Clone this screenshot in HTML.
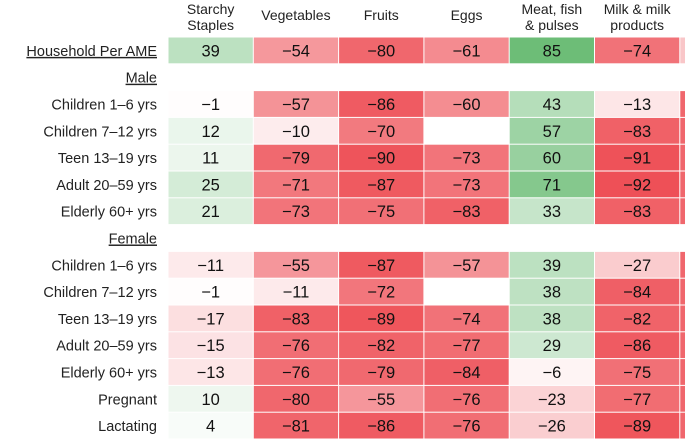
<!DOCTYPE html>
<html><head><meta charset="utf-8">
<style>
html,body{margin:0;padding:0;background:#fff;}
svg{display:block;font-family:"Liberation Sans",Arial,sans-serif;}
</style></head>
<body>
<svg id="chart" width="685" height="444" viewBox="0 0 685 444" xmlns="http://www.w3.org/2000/svg"></svg>
<script>
const columns = ["Starchy|Staples","Vegetables","Fruits","Eggs","Meat, fish|& pulses","Milk & milk|products",""];
const rowLabels = ["Household Per AME","Male","Children 1–6 yrs","Children 7–12 yrs","Teen 13–19 yrs","Adult 20–59 yrs","Elderly 60+ yrs","Female","Children 1–6 yrs","Children 7–12 yrs","Teen 13–19 yrs","Adult 20–59 yrs","Elderly 60+ yrs","Pregnant","Lactating"];
const headerRows = [false,true,false,false,false,false,false,true,false,false,false,false,false,false,false];
const starchy = [39,null,-1,12,11,25,21,null,-11,-1,-17,-15,-13,10,4];
const vegetables = [-54,null,-57,-10,-79,-71,-73,null,-55,-11,-83,-76,-76,-80,-81];
const fruits = [-80,null,-86,-70,-90,-87,-75,null,-87,-72,-89,-82,-79,-55,-86];
const eggs = [-61,null,-60,null,-73,-73,-83,null,-57,null,-74,-77,-84,-76,-76];
const meat = [85,null,43,57,60,71,33,null,39,38,38,29,-6,-23,-26];
const milk = [-74,null,-13,-83,-91,-92,-83,null,-27,-84,-82,-86,-75,-77,-89];
const extra = [-30,null,-80,-80,-80,-80,-80,null,-80,-80,-80,-80,-80,-80,-80];
const series = [starchy,vegetables,fruits,eggs,meat,milk,extra];

const svg = document.getElementById('chart');
const NS = 'http://www.w3.org/2000/svg';
const x0 = 168, colW = 85.3, y0 = 37, rowH = 26.8;
const colX = i => x0 + i*colW;
const rowY = j => y0 + j*rowH;
function color(v){
  if(v>=0){const t=Math.min(v/85,1);return `rgb(${Math.round(255-t*146)},${Math.round(255-t*66)},${Math.round(255-t*136)})`;}
  const t=Math.min(-v/92,1);return `rgb(${Math.round(255-t*17)},${Math.round(255-t*175)},${Math.round(255-t*168)})`;
}
function el(tag,attrs,text){const e=document.createElementNS(NS,tag);for(const k in attrs)e.setAttribute(k,attrs[k]);if(text!==undefined)e.textContent=text;svg.appendChild(e);return e;}

columns.forEach((c,i)=>{
  if(!c) return;
  const parts=c.split('|');
  const cx=colX(i)+colW/2;
  parts.forEach((p,k)=>{
    const t=el('text',{x:cx,y:(parts.length===2?14+k*16:20),'text-anchor':'middle','font-size':14,fill:'#222'},p);
    
    
  });
});

rowLabels.forEach((lab,j)=>{
  const t=el('text',{x:157,y:rowY(j)+rowH/2+5.5,'text-anchor':'end','font-size':14.5,fill:'#222'},lab);
  if(headerRows[j]||j===0) t.setAttribute('text-decoration','underline');
  
  
});

series.forEach((vals,i)=>{
  vals.forEach((v,j)=>{
    if(v===null) return;
    const r=el('rect',{x:colX(i)+0.5,y:rowY(j)+0.5,width:colW-1,height:rowH-1,fill:color(v)});
    
    
    if(columns[i]){
      const t=el('text',{x:colX(i)+colW/2,y:rowY(j)+rowH/2+6,'text-anchor':'middle','font-size':16.5,fill:'#111'},(v<0?'−'+(-v):String(v)));
      
      
    }
  });
});
</script>
</body></html>
